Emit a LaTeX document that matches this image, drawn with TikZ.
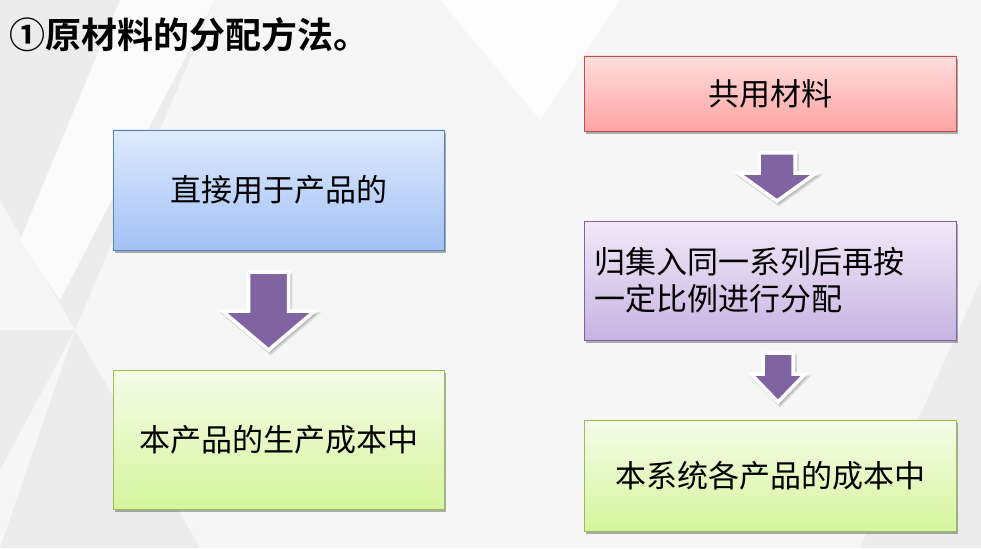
\documentclass[tikz,border=0pt]{standalone}
\usepackage{fontspec}
\setmainfont{Noto Sans CJK SC}[BoldFont={Noto Sans CJK SC Bold}]
\usetikzlibrary{shadows}
\definecolor{bgbase}{HTML}{F6F6F6}
\definecolor{bggray}{HTML}{E9E9E9}
\definecolor{bluetop}{HTML}{DFEAFD}
\definecolor{bluebot}{HTML}{A3C1F5}
\definecolor{blueline}{HTML}{4F81BD}
\definecolor{greentop}{HTML}{F5FCE8}
\definecolor{greenbot}{HTML}{D6F59E}
\definecolor{greenline}{HTML}{9BBB59}
\definecolor{redtop}{HTML}{FFDEDE}
\definecolor{redbot}{HTML}{FFA3A3}
\definecolor{redline}{HTML}{C0504D}
\definecolor{purptop}{HTML}{F1E9F8}
\definecolor{purpbot}{HTML}{C6B4E2}
\definecolor{purpline}{HTML}{8064A2}
\definecolor{arrowfill}{HTML}{8064A2}
\newcommand{\myblockarrow}[6]{%
  \path[arrowshadow] ({#1-#5+2},{#2+3}) -- ({#1+#5+2},{#2+3}) -- ({#1+#5+2},{#3+3}) -- ({#1+#6+2},{#3+3}) -- ({#1+2},{#4+3}) -- ({#1-#6+2},{#3+3}) -- ({#1-#5+2},{#3+3}) -- cycle;
  \path[arrowbody] ({#1-#5},{#2}) -- ({#1+#5},{#2}) -- ({#1+#5},{#3}) -- ({#1+#6},{#3}) -- ({#1},{#4}) -- ({#1-#6},{#3}) -- ({#1-#5},{#3}) -- cycle;}
\tikzset{
  box/.style={draw, line width=0.8pt, inner sep=0pt, outer sep=0pt, font=\fontsize{31}{37}\selectfont,
    drop shadow={shadow xshift=2pt, shadow yshift=-3pt, fill=black, opacity=0.3}},
  bluebox/.style={box, draw=blueline, top color=bluetop, bottom color=bluebot},
  greenbox/.style={box, draw=greenline, top color=greentop, bottom color=greenbot},
  redbox/.style={box, draw=redline, top color=redtop, bottom color=redbot},
  purpbox/.style={box, draw=purpline, top color=purptop, bottom color=purpbot},
  arrowbody/.style={fill=arrowfill, draw=white, line width=3.5pt, line join=miter},
  arrowshadow/.style={fill=black, draw=black, line width=3.5pt, opacity=0.12},
  bgshape/.style={fill=bggray, opacity=0.7, draw=none},
  bglight/.style={fill=white, opacity=0.8, draw=none}
}
\begin{document}
\begin{tikzpicture}[x=1pt,y=-1pt]
\useasboundingbox (0,0) rectangle (981,548);
% background
\fill[bgbase] (0,0) rectangle (981,548);
\fill[bgshape] (0,0) -- (215,0) -- (75,330) -- (0,200) -- cycle;
\fill[bglight] (120,0) -- (215,0) -- (60,300) -- (20,240) -- cycle;
\fill[bgshape] (0,330) -- (75,330) -- (0,470) -- cycle;
\fill[bgshape] (75,330) -- (200,548) -- (0,548) -- cycle;
\fill[bgshape] (981,280) -- (981,548) -- (860,548) -- cycle;
\fill[bglight] (440,0) -- (620,0) -- (540,120) -- cycle;
% title
\node[anchor=base west, inner sep=0pt, font=\fontsize{36}{40}\selectfont\bfseries] (title) at (9,49) {①原材料的分配方法。};
% left column
\node[bluebox, minimum width=331pt, minimum height=120pt] (direct) at (278.5,190) {直接用于产品的};
\node[greenbox, minimum width=331pt, minimum height=139pt] (prodcost) at (278.5,439.5) {本产品的生产成本中};
% right column
\node[redbox, minimum width=372pt, minimum height=75pt] (shared) at (770,93.5) {共用材料};
\node[purpbox, minimum width=372pt, minimum height=119pt, align=left, text width=352pt] (collect) at (770,280.5) {归集入同一系列后再按\\一定比例进行分配};
\node[greenbox, minimum width=372pt, minimum height=111pt] (syscost) at (770,475.5) {本系统各产品的成本中};
% block arrows
\myblockarrow{268.5}{272}{311}{350}{20}{46}
\myblockarrow{777}{153}{173}{201}{18}{39}
\myblockarrow{778}{353}{374}{402}{15}{27}
\end{tikzpicture}
\end{document}
